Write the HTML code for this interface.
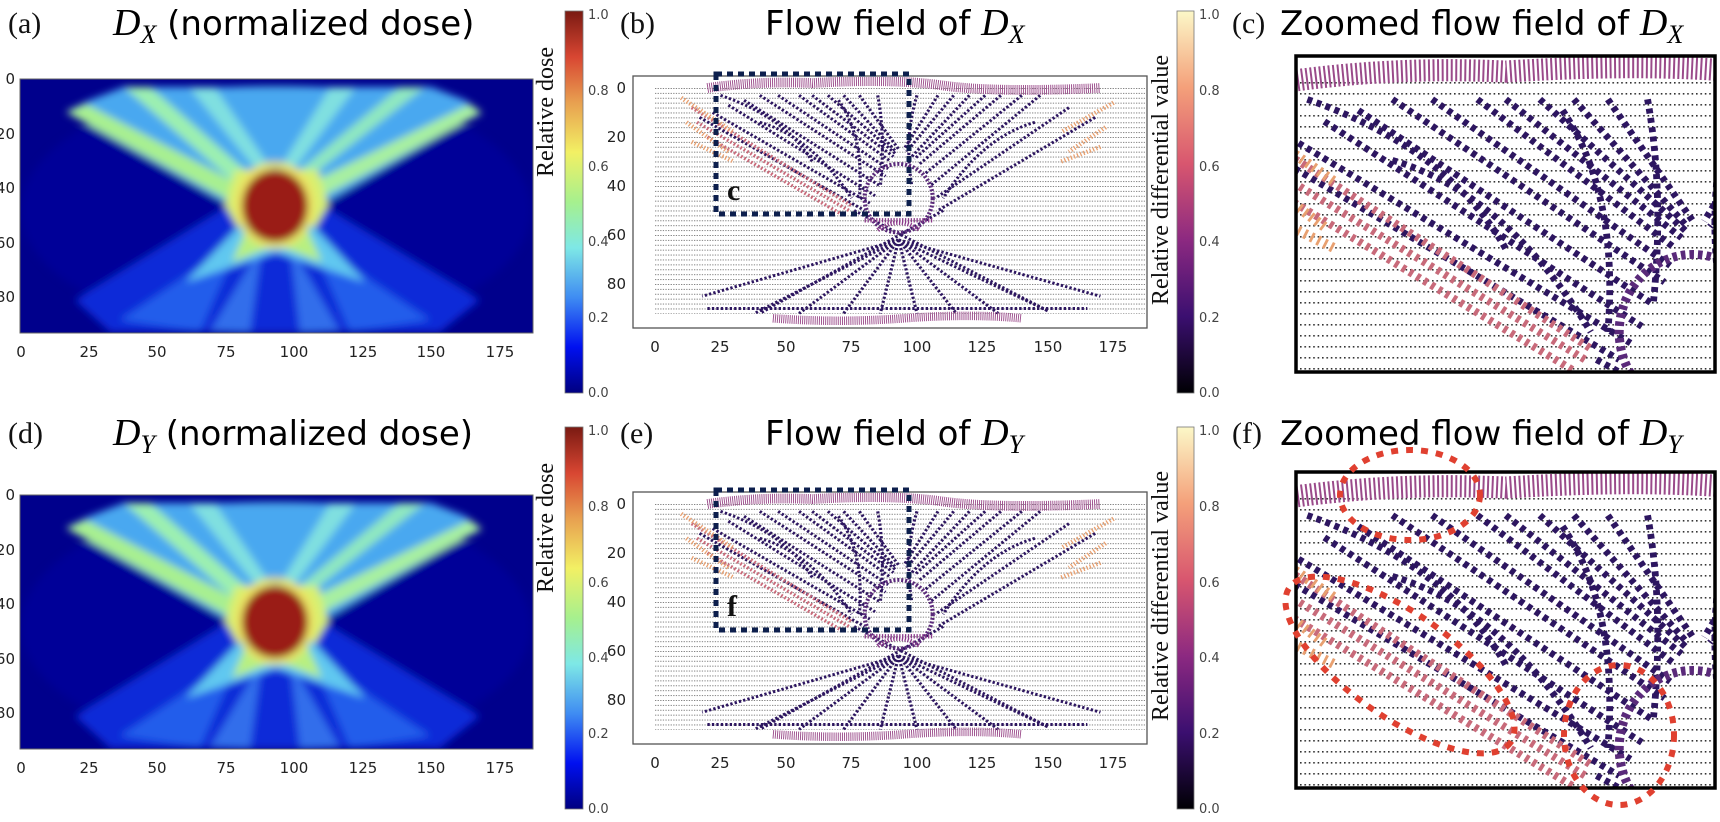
<!DOCTYPE html>
<html><head><meta charset="utf-8"><style>
html,body{margin:0;padding:0;background:#fff;overflow:hidden;width:1720px;height:822px;}
svg{display:block;}
.tk{font-family:"DejaVu Sans","Liberation Sans",sans-serif;font-size:15px;fill:#222;}
.cb{font-family:"DejaVu Sans","Liberation Sans",sans-serif;font-size:13px;fill:#444;}
.lab{font-family:"Liberation Serif",serif;font-size:30px;fill:#111;}
.ttl{font-family:"DejaVu Sans","Liberation Sans",sans-serif;font-size:34px;fill:#000;}
.mi{font-family:"Liberation Serif",serif;font-style:italic;}
.cbl{font-family:"Liberation Serif",serif;font-size:24px;fill:#111;}
</style></head><body>
<svg width="1720" height="822" viewBox="0 0 1720 822" xmlns="http://www.w3.org/2000/svg" overflow="hidden">
<defs>
<linearGradient id="jet" x1="0" y1="1" x2="0" y2="0">
<stop offset="0" stop-color="#000080"/><stop offset="0.12" stop-color="#0010f0"/>
<stop offset="0.25" stop-color="#3f8cf2"/><stop offset="0.38" stop-color="#7ee8e6"/>
<stop offset="0.5" stop-color="#a6f08e"/><stop offset="0.63" stop-color="#f2f064"/>
<stop offset="0.76" stop-color="#e8a050"/><stop offset="0.88" stop-color="#d84632"/>
<stop offset="1" stop-color="#7a1a12"/></linearGradient>
<linearGradient id="magma" x1="0" y1="1" x2="0" y2="0">
<stop offset="0" stop-color="#000004"/><stop offset="0.2" stop-color="#3b0f70"/>
<stop offset="0.4" stop-color="#8c2981"/><stop offset="0.6" stop-color="#d8566f"/>
<stop offset="0.8" stop-color="#f4a07a"/><stop offset="1" stop-color="#fcf8c8"/></linearGradient>
<filter id="bl" x="-5%" y="-5%" width="110%" height="110%"><feGaussianBlur stdDeviation="4"/></filter>
<clipPath id="ha"><rect x="20" y="79" width="513" height="254"/></clipPath>
<clipPath id="cc"><rect x="1297" y="57" width="417" height="314"/></clipPath>
<clipPath id="bc"><rect x="634" y="77" width="512" height="250"/></clipPath>
<pattern id="rowsb" x="655" y="88" width="2.6" height="4.9" patternUnits="userSpaceOnUse"><rect width="1.3" height="0.9" fill="#777"/></pattern>
<pattern id="rowsc" x="1300" y="82" width="4.4" height="11" patternUnits="userSpaceOnUse"><rect width="1.6" height="1.6" fill="#333"/></pattern>

<g id="heat">
<rect x="20" y="79" width="513" height="254" fill="#00008c"/>
<g clip-path="url(#ha)" filter="url(#bl)">
<ellipse cx="276" cy="210" rx="255" ry="125" fill="#000098"/>
<polygon points="75,300 230,205 321,205 480,300 440,332 110,332" fill="#0a2ad8"/>
<polygon points="120,320 240,240 200,332" fill="#2a6af0" opacity="0.8"/>
<polygon points="430,320 310,240 350,332" fill="#2a6af0" opacity="0.8"/>
<polygon points="210,332 262,245 250,332" fill="#3a80f0" opacity="0.8"/>
<polygon points="340,332 290,245 300,332" fill="#3a80f0" opacity="0.8"/>
<polygon points="66,112 90,100 124,87 431,87 465,100 480,112 321,205 275,225 230,205" fill="#4aa8f0"/>
<polygon points="66,112 86,104 262,196 240,206" fill="#a8f090"/>
<polygon points="124,87 150,87 268,190 250,196" fill="#9cf0b0"/>
<polygon points="470,104 482,113 312,202 296,190" fill="#a8f0a0"/>
<polygon points="400,87 425,87 300,185 290,178" fill="#90e8c0"/>
<polygon points="190,88 215,88 272,170 258,172" fill="#80e0e0"/>
<polygon points="330,88 355,88 292,172 280,168" fill="#80e0e0"/>
<polygon points="235,170 318,170 328,205 305,245 248,245 225,205" fill="#d8f070"/>
<polygon points="240,225 312,225 365,282 276,252 186,282" fill="#60c8f0"/>
<polygon points="248,225 305,225 322,262 276,245 232,262" fill="#b8f080"/>
<ellipse cx="275" cy="205" rx="40" ry="44" fill="#f0e060" opacity="0.8"/>
<ellipse cx="275" cy="206" rx="33" ry="36" fill="#9a1c12"/>
</g>
<rect x="20" y="79" width="513" height="254" fill="none" stroke="#666" stroke-width="1"/>
<g class="tk" text-anchor="end"><text x="15" y="84">0</text><text x="15" y="139">20</text><text x="15" y="193">40</text><text x="15" y="248">60</text><text x="15" y="302">80</text></g>
<g class="tk" text-anchor="middle"><text x="21" y="357">0</text><text x="89" y="357">25</text><text x="157" y="357">50</text><text x="226" y="357">75</text><text x="294" y="357">100</text><text x="363" y="357">125</text><text x="431" y="357">150</text><text x="500" y="357">175</text></g>
<rect x="565" y="11" width="18" height="382" fill="url(#jet)" stroke="#777" stroke-width="0.8"/>
<g class="cb"><text x="588" y="19">1.0</text><text x="588" y="95">0.8</text><text x="588" y="171">0.6</text><text x="588" y="246">0.4</text><text x="588" y="322">0.2</text><text x="588" y="397">0.0</text></g>
<text class="cbl" transform="translate(553,112) rotate(-90)" text-anchor="middle">Relative dose</text>
</g>

<g id="beams" fill="none">
<g stroke="#2d1660" stroke-width="1.2" stroke-dasharray="0.9 0.8">
<path d="M17,12 L80,50 M28,7 L84,44 M40,3 L88,36 M55,3 L90,30 M66,3 L92,27 M78,3 L93,25 M108,3 L95,25 M120,3 L98,28 M132,3 L101,31 M147,3 L105,40 M168,12 L108,50"/>
<path d="M22,10 L82,47 M34,5 L86,40 M47,3 L89,33 M60,3 L91,28 M72,3 L92,26 M114,3 L96,26 M126,3 L99,29 M140,3 L103,35 M158,8 L107,45"/>
<path d="M93,62 L18,85 M93,62 L38,92 M93,62 L55,92 M93,62 L72,92 M93,62 L86,92 M93,62 L100,92 M93,62 L115,92 M93,62 L131,92 M93,62 L150,91 M93,62 L170,85 M76,50 L150,91 M110,50 L40,92"/>
<path d="M40,14 Q60,20 75,45 M145,14 Q125,20 110,45 M20,90 L165,90 M25,3 Q50,12 60,30 M70,5 Q80,20 78,45 M85,3 Q88,20 86,40 M100,3 Q95,20 98,40"/>
</g>
<ellipse cx="93" cy="45" rx="13" ry="14" stroke="#5a2a7a" stroke-width="1.6" stroke-dasharray="0.8 0.7"/>
<path d="M14,8 L75,48 M20,20 L72,52 M16,14 L74,50" stroke="#c86a7a" stroke-width="1.4" stroke-dasharray="0.7 0.8"/>
<path d="M10,4 L30,18 M12,14 L28,26 M14,22 L30,30" stroke="#e8a070" stroke-width="1.8" stroke-dasharray="0.5 0.8"/>
<path d="M175,6 L155,18 M172,16 L158,26 M170,24 L155,30" stroke="#e8a070" stroke-width="1.8" stroke-dasharray="0.5 0.8"/>
<path d="M20,0 Q40,-3 60,-2 Q90,-4 110,-1 T170,0" stroke="#9a4a8a" stroke-width="4" stroke-dasharray="0.35 0.45"/>
<path d="M45,94 Q70,96 95,94 T140,94" stroke="#9a4a8a" stroke-width="3.5" stroke-dasharray="0.35 0.45"/>
<path d="M85,58 Q93,52 101,58 M80,54 L106,54" stroke="#8a3a8a" stroke-width="1.8" stroke-dasharray="0.5 0.6"/>
</g>

<g id="flow">
<rect x="633" y="76" width="514" height="252" fill="#fff" stroke="#555" stroke-width="1.3"/>
<rect x="655" y="88" width="490" height="226" fill="url(#rowsb)"/>
<g clip-path="url(#bc)"><use href="#beams" transform="matrix(2.62,0,0,2.45,655,88)"/></g>
<g class="tk" text-anchor="end"><text x="626" y="93">0</text><text x="626" y="142">20</text><text x="626" y="191">40</text><text x="626" y="240">60</text><text x="626" y="289">80</text></g>
<g class="tk" text-anchor="middle"><text x="655" y="352">0</text><text x="720" y="352">25</text><text x="786" y="352">50</text><text x="851" y="352">75</text><text x="917" y="352">100</text><text x="982" y="352">125</text><text x="1048" y="352">150</text><text x="1113" y="352">175</text></g>
<rect x="716" y="74" width="193" height="140" fill="none" stroke="#0d1f4d" stroke-width="5" stroke-dasharray="6 5"/>
<rect x="1177" y="11" width="17" height="382" fill="url(#magma)" stroke="#777" stroke-width="0.8"/>
<g class="cb"><text x="1199" y="19">1.0</text><text x="1199" y="95">0.8</text><text x="1199" y="171">0.6</text><text x="1199" y="246">0.4</text><text x="1199" y="322">0.2</text><text x="1199" y="397">0.0</text></g>
<text class="cbl" transform="translate(1168,180) rotate(-90)" text-anchor="middle">Relative differential value</text>
</g>

<g id="zoomc">
<rect x="1296" y="56" width="419" height="316" fill="#fff"/>
<rect x="1300" y="82" width="414" height="290" fill="url(#rowsc)"/>
<g clip-path="url(#cc)"><use href="#beams" transform="matrix(5.67,0,0,5.54,1165.6,82.7)"/></g>
<rect x="1296" y="56" width="419" height="316" fill="none" stroke="#000" stroke-width="3.5"/>
</g>
</defs>

<use href="#heat"/>
<use href="#flow"/>
<use href="#zoomc"/>
<use href="#heat" y="416"/>
<use href="#flow" y="416"/>
<use href="#zoomc" y="416"/>

<text class="lab" x="8" y="33">(a)</text>
<text class="ttl" x="113" y="35"><tspan class="mi" font-size="38">D</tspan><tspan class="mi" font-size="26" dy="8">X</tspan><tspan dy="-8"> (normalized dose)</tspan></text>
<text class="lab" x="620" y="33">(b)</text>
<text class="ttl" x="765" y="35">Flow field of <tspan class="mi" font-size="38">D</tspan><tspan class="mi" font-size="26" dy="8">X</tspan></text>
<text class="lab" x="727" y="200" font-weight="bold" font-size="30">c</text>
<text class="lab" x="1232" y="33">(c)</text>
<text class="ttl" x="1280" y="35">Zoomed flow field of <tspan class="mi" font-size="38">D</tspan><tspan class="mi" font-size="26" dy="8">X</tspan></text>

<text class="lab" x="8" y="443">(d)</text>
<text class="ttl" x="113" y="445"><tspan class="mi" font-size="38">D</tspan><tspan class="mi" font-size="26" dy="8">Y</tspan><tspan dy="-8"> (normalized dose)</tspan></text>
<text class="lab" x="620" y="443">(e)</text>
<text class="ttl" x="765" y="445">Flow field of <tspan class="mi" font-size="38">D</tspan><tspan class="mi" font-size="26" dy="8">Y</tspan></text>
<text class="lab" x="727" y="616" font-weight="bold" font-size="30">f</text>
<text class="lab" x="1232" y="443">(f)</text>
<text class="ttl" x="1280" y="445">Zoomed flow field of <tspan class="mi" font-size="38">D</tspan><tspan class="mi" font-size="26" dy="8">Y</tspan></text>

<g fill="none" stroke="#e04030" stroke-width="6" stroke-dasharray="7 8">
<ellipse cx="1410" cy="495" rx="70" ry="45"/>
<ellipse cx="1400" cy="665" rx="135" ry="52" transform="rotate(35 1400 665)"/>
<ellipse cx="1619" cy="735" rx="55" ry="70"/>
</g>
</svg>
</body></html>
